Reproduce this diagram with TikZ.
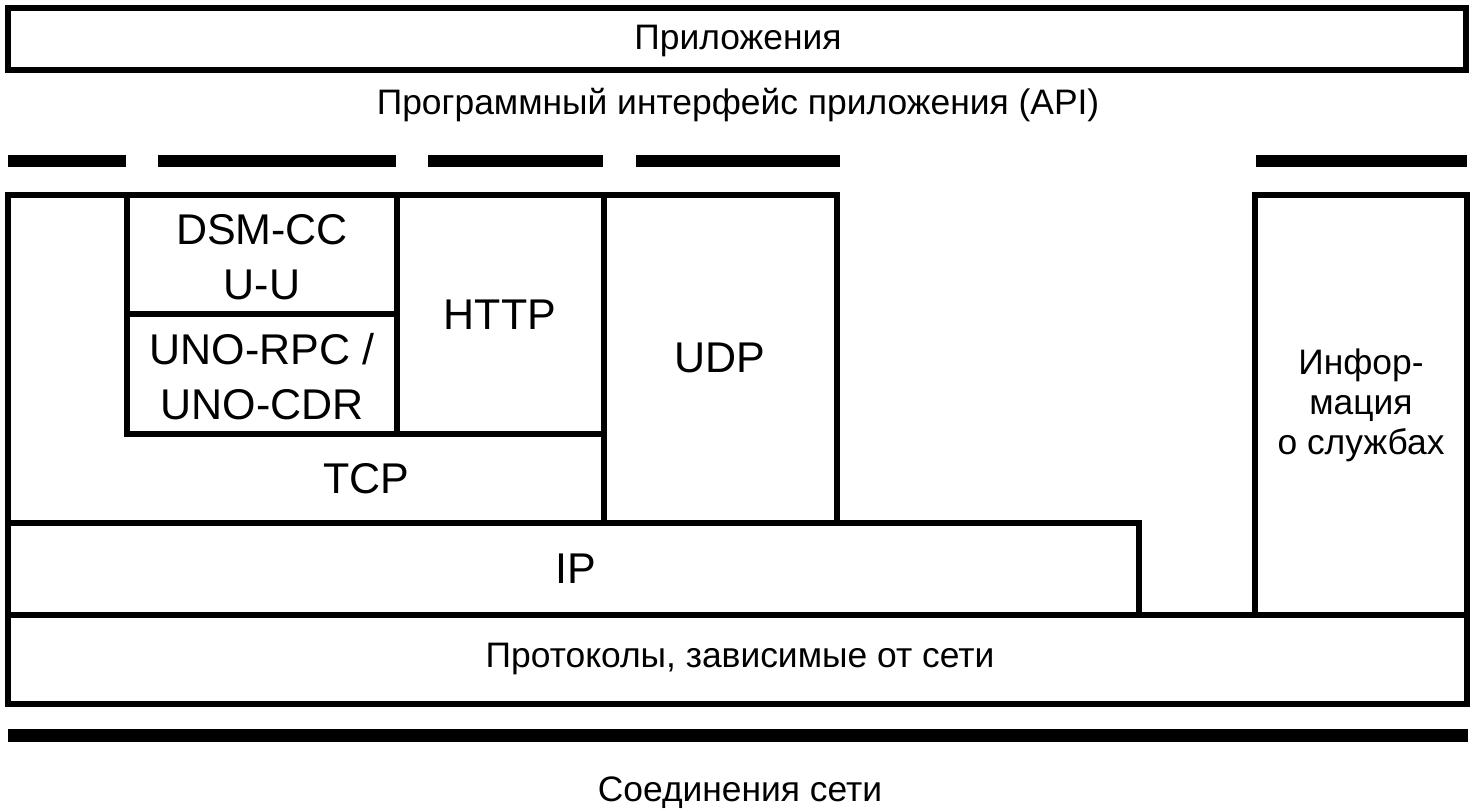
\documentclass[tikz,border=0pt]{standalone}
\usepackage{fontspec}
\setmainfont{Liberation Sans}
\begin{document}
\begin{tikzpicture}[x=0.5pt,y=-0.5pt,
  box/.style={line width=3pt,line join=miter},
  bar/.style={line width=6pt},
  bigtxt/.style={font=\fontsize{21.5}{27.5}\selectfont,align=center,inner sep=0pt},
  smalltxt/.style={font=\fontsize{17.7}{20}\selectfont,align=center,inner sep=0pt}]
\useasboundingbox (0,0) rectangle (1474,812);
% applications
\draw[box] (8,8) rectangle (1466,70);
\node[smalltxt] (app) at (738,41) {Приложения};
\node[smalltxt] (api) at (738,105) {Программный интерфейс приложения (API)};
% API bars
\draw[bar] (8,161) -- (126,161);
\draw[bar] (158,161) -- (396,161);
\draw[bar] (428,161) -- (603,161);
\draw[bar] (636,161) -- (840,161);
\draw[bar] (1256,161) -- (1467,161);
% stack frame
\draw[box] (8,523) -- (8,195) -- (837,195) -- (837,523);
\draw[box] (127,195) -- (127,434) -- (603.5,434);
\draw[box] (127,314.5) -- (396.5,314.5);
\draw[box] (396.5,195) -- (396.5,434);
\draw[box] (603.5,195) -- (603.5,523);
\draw[box] (8,523) rectangle (1139,615);
\draw[box] (8,615) rectangle (1467,704);
\draw[box] (1255,195) rectangle (1467,615);
% bottom bar
\draw[line width=6.5pt] (8,735.5) -- (1468,735.5);
% labels
\node[bigtxt] (dsm) at (262,257) {DSM-CC\\U-U};
\node[bigtxt] (uno) at (262,377) {UNO-RPC /\\UNO-CDR};
\node[bigtxt] (http) at (500,315) {HTTP};
\node[bigtxt] (udp) at (720,358) {UDP};
\node[bigtxt] (tcp) at (366,479) {TCP};
\node[bigtxt] (ip) at (576,569) {IP};
\node[smalltxt] (net) at (740,659) {Протоколы, зависимые от сети};
\node[smalltxt] (info) at (1361,405) {Инфор-\\мация\\о службах};
\node[smalltxt] (conn) at (740,793) {Соединения сети};
\end{tikzpicture}
\end{document}
